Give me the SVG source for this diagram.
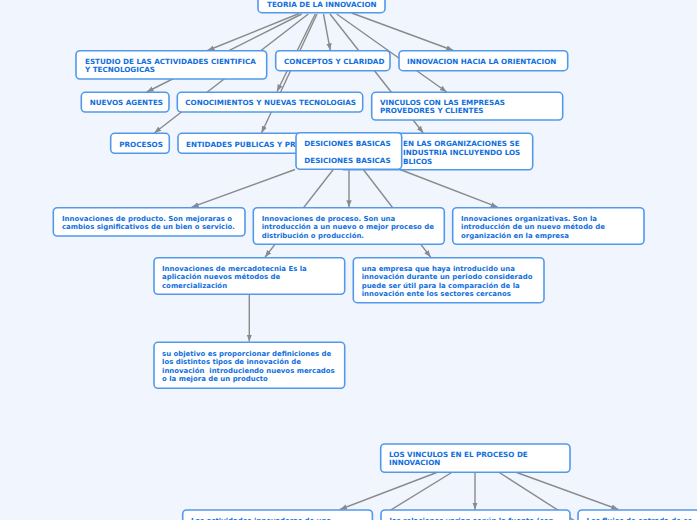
<svg xmlns="http://www.w3.org/2000/svg" width="697" height="520" viewBox="0 0 697 520">
<defs>
<marker id="ah" markerUnits="userSpaceOnUse" markerWidth="7" markerHeight="7" viewBox="0 0 10 10" refX="10" refY="5" orient="auto">
<path d="M0,1.2 L10,5 L0,8.8 z" fill="#8a8a8a"/>
</marker>
<style>
.bg{fill:#f1f5fe}
.n rect{fill:#ffffff;stroke:#5299ec;stroke-width:1.6}
.n text{font-family:"DejaVu Sans","Verdana",sans-serif;font-weight:bold;font-size:7.2px;fill:#0f6fe0}
.n.s text{font-size:6.95px}
.c line{stroke:#8a8a8a;stroke-width:1.4;fill:none}
.c line.a{marker-end:url(#ah)}
</style>
</defs>
<rect class="bg" x="0" y="0" width="697" height="520"/>

<g id="connectors" class="c">
<line class="a" x1="299" y1="13.5" x2="207.5" y2="50.5"/>
<line class="a" x1="301.7" y1="14" x2="146.7" y2="92"/>
<line class="a" x1="308.3" y1="14" x2="154.3" y2="133"/>
<line class="a" x1="315.3" y1="14" x2="277" y2="91.5"/>
<line class="a" x1="317" y1="14" x2="261.5" y2="133"/>
<line class="a" x1="323.5" y1="14" x2="330.3" y2="50.3"/>
<line class="a" x1="330" y1="14" x2="423.3" y2="133"/>
<line class="a" x1="336.7" y1="14" x2="446.7" y2="92"/>
<line class="a" x1="351.7" y1="13" x2="453.3" y2="50.5"/>
<line class="a" x1="295" y1="169.5" x2="191.7" y2="207.2"/>
<line class="a" x1="333.3" y1="169.5" x2="265" y2="257.2"/>
<line class="a" x1="349" y1="169.5" x2="349" y2="207.2"/>
<line class="a" x1="363.3" y1="169.5" x2="430.7" y2="257.2"/>
<line class="a" x1="400" y1="169.5" x2="497.7" y2="207.2"/>
<line class="a" x1="249.3" y1="294.5" x2="249.3" y2="341.6"/>
<line class="a" x1="436.7" y1="472.5" x2="340" y2="509.5"/>
<line x1="451.7" y1="472.5" x2="381" y2="516"/>
<line class="a" x1="475" y1="472.5" x2="475" y2="509.5"/>
<line x1="499.3" y1="472.5" x2="578" y2="523"/>
<line class="a" x1="516.7" y1="472.5" x2="618.3" y2="509.5"/>
</g>

<g id="teoria" class="n"><rect x="258" y="-6" width="127" height="18.7" rx="4"/><text x="267" y="6.5">TEORIA DE LA INNOVACION</text></g>
<g id="estudio" class="n"><rect x="76" y="50.7" width="190.7" height="28.3" rx="4"/><text x="85" y="63.8">ESTUDIO DE LAS ACTIVIDADES CIENTIFICA</text><text x="85" y="72">Y TECNOLOGICAS</text></g>
<g id="conceptos" class="n"><rect x="275.7" y="50.7" width="114.3" height="20" rx="4"/><text x="284" y="63.8">CONCEPTOS Y CLARIDAD</text></g>
<g id="innovacion-hacia" class="n"><rect x="399" y="50.7" width="168.7" height="20" rx="4"/><text x="407" y="63.8">INNOVACION HACIA LA ORIENTACION</text></g>
<g id="nuevos-agentes" class="n"><rect x="81.3" y="92.3" width="87.7" height="19.7" rx="4"/><text x="89.7" y="104.8">NUEVOS AGENTES</text></g>
<g id="conocimientos" class="n"><rect x="177.3" y="92.3" width="185.4" height="19.7" rx="4"/><text x="185.3" y="104.8">CONOCIMIENTOS Y NUEVAS TECNOLOGIAS</text></g>
<g id="vinculos-empresas" class="n"><rect x="371.7" y="92.3" width="191" height="27.7" rx="4"/><text x="380" y="104.8">VINCULOS CON LAS EMPRESAS</text><text x="380" y="113.4">PROVEDORES Y CLIENTES</text></g>
<g id="procesos" class="n"><rect x="110.7" y="133.3" width="58.6" height="20" rx="4"/><text x="119.3" y="146.6">PROCESOS</text></g>
<g id="entidades" class="n"><rect x="178" y="133.3" width="150" height="20" rx="4"/><text x="186" y="146.6">ENTIDADES PUBLICAS Y PR</text></g>
<g id="organizaciones" class="n"><rect x="340" y="133.3" width="192.7" height="36.5" rx="4"/><text x="403" y="146.4">EN LAS ORGANIZACIONES SE</text><text x="403" y="155">INDUSTRIA INCLUYENDO LOS</text><text x="403" y="163.6">BLICOS</text></g>
<g id="desiciones" class="n"><rect x="296" y="132.7" width="105.7" height="36.6" rx="4"/><text x="304.3" y="145.8">DESICIONES BASICAS</text><text x="304.3" y="162.8">DESICIONES BASICAS</text></g>

<g id="producto" class="n s"><rect x="53.3" y="207.7" width="191.7" height="28.3" rx="4"/><text x="62" y="220.8">Innovaciones de producto. Son mejoraras o</text><text x="62" y="229.2">cambios significativos de un bien o servicio.</text></g>
<g id="proceso" class="n s"><rect x="253.3" y="207.7" width="191" height="36.6" rx="4"/><text x="261.7" y="220.8">Innovaciones de proceso. Son una</text><text x="261.7" y="229.2">introducción a un nuevo o mejor proceso de</text><text x="261.7" y="237.8">distribución o producción.</text></g>
<g id="organizativas" class="n s"><rect x="452.7" y="207.7" width="191.3" height="36.6" rx="4"/><text x="461" y="220.8">Innovaciones organizativas. Son la</text><text x="461" y="229.2">introducción de un nuevo método de</text><text x="461" y="237.8">organización en la empresa</text></g>
<g id="mercadotecnia" class="n s"><rect x="154" y="257.7" width="190.7" height="36.6" rx="4"/><text x="162" y="270.8">Innovaciones de mercadotecnia Es la</text><text x="162" y="279.2">aplicación nuevos métodos de</text><text x="162" y="287.8">comercialización</text></g>
<g id="una-empresa" class="n s"><rect x="353.3" y="257.7" width="190.7" height="45" rx="4"/><text x="361.7" y="270.8">una empresa que haya introducido una</text><text x="361.7" y="279.2">innovación durante un periodo considerado</text><text x="361.7" y="287.8">puede ser útil para la comparación de la</text><text x="361.7" y="296.2">innovación ente los sectores cercanos</text></g>
<g id="objetivo" class="n s"><rect x="154" y="342.3" width="190.7" height="46" rx="4"/><text x="162" y="355.8">su objetivo es proporcionar definiciones de</text><text x="162" y="364.2">los distintos tipos de innovación de</text><text x="162" y="372.6" xml:space="preserve">innovación  introduciendo nuevos mercados</text><text x="162" y="381">o la mejora de un producto</text></g>

<g id="vinculos-proceso" class="n"><rect x="380.7" y="444" width="189.3" height="28.3" rx="4"/><text x="389" y="456.8">LOS VINCULOS EN EL PROCESO DE</text><text x="389" y="465.2">INNOVACION</text></g>
<g id="actividades" class="n s"><rect x="182.7" y="510" width="189.7" height="40" rx="4"/><text x="191" y="523.2">Las actividades innovadoras de una</text></g>
<g id="relaciones" class="n s"><rect x="381" y="510" width="189" height="40" rx="4"/><text x="389.5" y="523.2">las relaciones varian según la fuente (con</text></g>
<g id="flujos" class="n s"><rect x="578" y="510" width="140" height="40" rx="4"/><text x="586.5" y="523.2">Los flujos de entrada de co</text></g>
</svg>
